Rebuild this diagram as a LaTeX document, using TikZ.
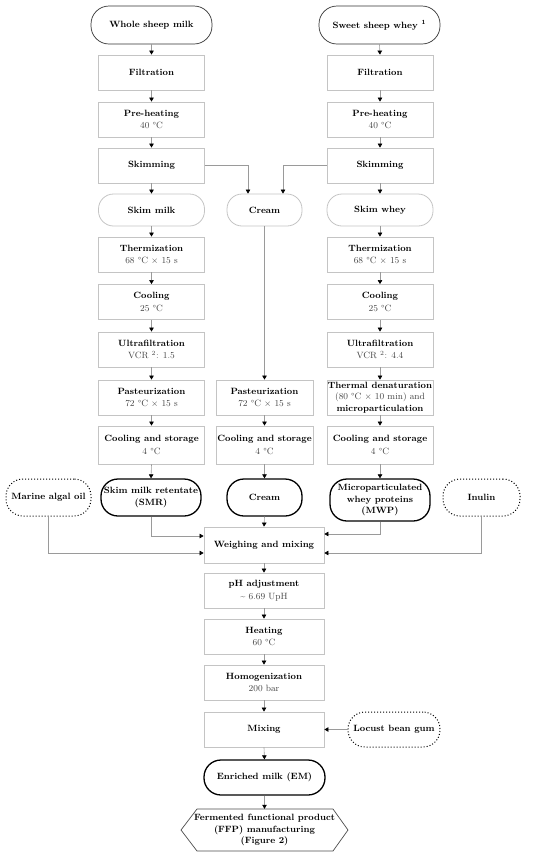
\documentclass[tikz,border=0pt]{standalone}
\usepackage{fontspec}
\usetikzlibrary{arrows.meta,calc}
\definecolor{boxgray}{HTML}{C4C4C4}
\definecolor{linegray}{HTML}{9A9A9A}
\definecolor{txtgray}{HTML}{444444}
\newcommand\subtx[1]{{\color{txtgray}\mdseries #1}}
\begin{document}
\begin{tikzpicture}[x=1pt,y=-1pt,
  base/.style={align=center, font=\fontsize{9.1}{12.5}\selectfont\bfseries, inner sep=1pt, text=black},
  procbox/.style={base, draw=boxgray, line width=0.8pt, minimum width=106pt, minimum height=35pt},
  soft/.style={base, draw=boxgray, line width=0.8pt, rounded corners=15pt, minimum height=32pt},
  term/.style={base, draw=black!80, line width=0.7pt, rounded corners=18pt, minimum height=38pt, minimum width=121pt},
  prod/.style={base, draw=black, line width=1.3pt, rounded corners=17pt, minimum height=37pt},
  extra/.style={base, draw=black, dotted, line width=1pt, rounded corners=17pt, minimum height=37pt},
  flow/.style={draw=linegray, line width=0.6pt, -{Triangle[width=4.5pt,length=4pt,color=black]}}
]
\useasboundingbox (0,0) rectangle (550,855);
% top terminals
\node[term] (wsm) at (151.5,25) {Whole sheep milk};
\node[term] (ssw) at (379.5,25) {Sweet sheep whey \textsuperscript{1}};
\node[procbox] (f1) at (151.5,72.5) {Filtration};
\node[procbox] (f2) at (380,72.5) {Filtration};
\node[procbox] (p1) at (151.5,119.5) {Pre-heating\\\subtx{40 °C}};
\node[procbox] (p2) at (380,119.5) {Pre-heating\\\subtx{40 °C}};
\node[procbox] (s1) at (151.5,165.5) {Skimming};
\node[procbox] (s2) at (380,165.5) {Skimming};
\node[soft, minimum width=106pt] (sm) at (151.5,210) {Skim milk};
\node[soft, minimum width=75pt] (cr) at (264.5,210) {Cream};
\node[soft, minimum width=106pt] (sw) at (380,210) {Skim whey};
\node[procbox] (t1) at (151.5,254.5) {Thermization\\\subtx{68 °C × 15 s}};
\node[procbox] (t2) at (380,254.5) {Thermization\\\subtx{68 °C × 15 s}};
\node[procbox] (c1) at (151.5,302) {Cooling\\\subtx{25 °C}};
\node[procbox] (c2) at (380,302) {Cooling\\\subtx{25 °C}};
\node[procbox] (u1) at (151.5,349.5) {Ultrafiltration\\\subtx{VCR \textsuperscript{2}: 1.5}};
\node[procbox] (u2) at (380,349.5) {Ultrafiltration\\\subtx{VCR \textsuperscript{2}: 4.4}};
\node[procbox] (pa1) at (151.5,397.5) {Pasteurization\\\subtx{72 °C × 15 s}};
\node[procbox, minimum width=97pt] (pa2) at (264.5,397.5) {Pasteurization\\\subtx{72 °C × 15 s}};
\node[procbox, font=\fontsize{9.1}{11.5}\selectfont\bfseries] (td) at (380,397.5) {Thermal denaturation\\\subtx{(80 °C × 10 min) and}\\microparticulation};
\node[procbox, minimum height=38pt] (cs1) at (151.5,445) {Cooling and storage\\\subtx{4 °C}};
\node[procbox, minimum height=38pt, minimum width=97pt] (cs2) at (264.5,445) {Cooling and storage\\\subtx{4 °C}};
\node[procbox, minimum height=38pt] (cs3) at (380,445) {Cooling and storage\\\subtx{4 °C}};
% products
\node[prod, minimum width=100pt] (smr) at (151,497.5) {Skim milk retentate\\(SMR)};
\node[prod, minimum width=75pt] (cr2) at (264.5,497.5) {Cream};
\node[prod, minimum width=100pt, minimum height=42pt, font=\fontsize{9.1}{11.8}\selectfont\bfseries] (mwp) at (380,500) {Microparticulated\\whey proteins\\(MWP)};
\node[extra, minimum width=85pt] (mao) at (48.5,497.5) {Marine algal oil};
\node[extra, minimum width=77pt] (inu) at (481.5,497.5) {Inulin};
% central column
\node[procbox, minimum width=120pt, minimum height=36pt] (wm) at (264,545) {Weighing and mixing};
\node[procbox, minimum width=120pt] (ph) at (264,590.5) {pH adjustment\\\subtx{\textasciitilde{} 6.69 UpH}};
\node[procbox, minimum width=120pt] (he) at (264,636.5) {Heating\\\subtx{60 °C}};
\node[procbox, minimum width=120pt] (ho) at (264,682.5) {Homogenization\\\subtx{200 bar}};
\node[procbox, minimum width=120pt] (mx) at (264,729.5) {Mixing};
\node[extra, minimum width=92pt, minimum height=35pt] (lbg) at (394,729.5) {Locust bean gum};
\node[prod, minimum width=121pt, minimum height=35pt] (em) at (264.5,777.5) {Enriched milk (EM)};
\node[base, minimum width=136pt, minimum height=42pt, font=\fontsize{9.1}{11.8}\selectfont\bfseries] (ffp) at (264.5,830) {Fermented functional product\\(FFP) manufacturing\\(Figure 2)};
\draw[black!70, line width=0.7pt] ($(ffp.center)+(-83.5,0)$) -- ($(ffp.center)+(-67.5,-21)$) -- ($(ffp.center)+(68.5,-21)$) -- ($(ffp.center)+(83.5,0)$) -- ($(ffp.center)+(68.5,21)$) -- ($(ffp.center)+(-67.5,21)$) -- cycle;
% connectors
\foreach \a/\b in {wsm/f1,f1/p1,p1/s1,s1/sm,sm/t1,t1/c1,c1/u1,u1/pa1,pa1/cs1,cs1/smr,
  ssw/f2,f2/p2,p2/s2,s2/sw,sw/t2,t2/c2,c2/u2,u2/td,td/cs3,cs3/mwp,
  cr/pa2,pa2/cs2,cs2/cr2,cr2/wm,wm/ph,ph/he,he/ho,ho/mx,mx/em,em/ffp}
  \draw[flow] (\a.south) -- (\b.north);
\coordinate (crinL) at ($(cr.north)+(-16.5,0)$);
\coordinate (crinR) at ($(cr.north)+(18.5,0)$);
\draw[flow] (s1.east) -| (crinL);
\draw[flow] (s2.west) -| (crinR);
\coordinate (wmL1) at ($(wm.west)+(0,-9)$);
\coordinate (wmL2) at ($(wm.west)+(0,8)$);
\coordinate (wmR1) at ($(wm.east)+(0,-11)$);
\coordinate (wmR2) at ($(wm.east)+(0,8)$);
\draw[flow] (smr.south) |- (wmL1);
\draw[flow] (mao.south) |- (wmL2);
\draw[flow] (mwp.south) |- (wmR1);
\draw[flow] (inu.south) |- (wmR2);
\draw[flow] (lbg.west) -- (mx.east);
\end{tikzpicture}
\end{document}
